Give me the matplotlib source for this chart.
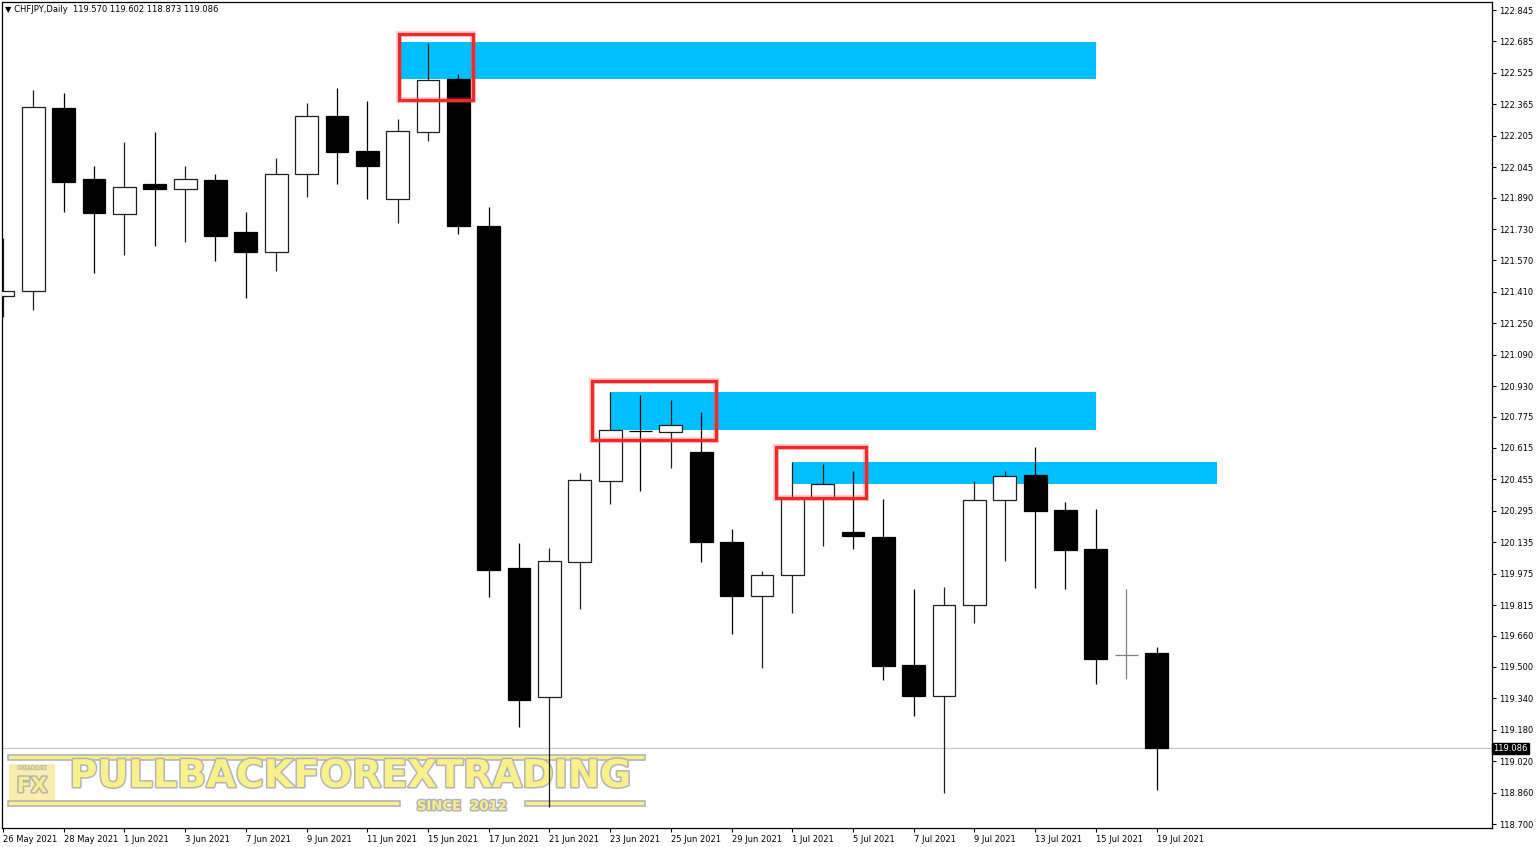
import matplotlib
matplotlib.use('Agg')
import matplotlib.pyplot as plt
import matplotlib.patches as patches
import matplotlib.patheffects as pe
import matplotlib.transforms as mtransforms

# CHFJPY daily bars
dates = ['26 May 2021', '27 May 2021', '28 May 2021', '31 May 2021', '1 Jun 2021',
         '2 Jun 2021', '3 Jun 2021', '4 Jun 2021', '7 Jun 2021', '8 Jun 2021',
         '9 Jun 2021', '10 Jun 2021', '11 Jun 2021', '14 Jun 2021', '15 Jun 2021',
         '16 Jun 2021', '17 Jun 2021', '18 Jun 2021', '21 Jun 2021', '22 Jun 2021',
         '23 Jun 2021', '24 Jun 2021', '25 Jun 2021', '28 Jun 2021', '29 Jun 2021',
         '30 Jun 2021', '1 Jul 2021', '2 Jul 2021', '5 Jul 2021', '6 Jul 2021',
         '7 Jul 2021', '8 Jul 2021', '9 Jul 2021', '12 Jul 2021', '13 Jul 2021',
         '14 Jul 2021', '15 Jul 2021', '16 Jul 2021', '19 Jul 2021']
opens = [121.389, 121.416, 122.344, 121.983, 121.806, 121.957, 121.932, 121.978, 121.717, 121.614,
         122.010, 122.307, 122.129, 121.884, 122.224, 122.492, 121.747, 120.004, 119.346, 120.036,
         120.445, 120.704, 120.698, 120.597, 120.137, 119.859, 119.966, 120.358, 120.185, 120.161,
         119.510, 119.353, 119.814, 120.348, 120.477, 120.297, 120.100, 119.561, 119.570]
highs = [121.684, 122.438, 122.421, 122.051, 122.171, 122.225, 122.051, 122.011, 121.818, 122.090,
         122.370, 122.446, 122.383, 122.291, 122.679, 122.519, 121.843, 120.131, 120.106, 120.489,
         120.901, 120.887, 120.859, 120.800, 120.201, 119.988, 120.543, 120.535, 120.498, 120.355,
         119.897, 119.907, 120.447, 120.496, 120.621, 120.341, 120.302, 119.895, 119.602]
lows = [121.282, 121.317, 121.815, 121.507, 121.599, 121.645, 121.664, 121.568, 121.377, 121.517,
        121.894, 121.960, 121.883, 121.762, 122.178, 121.704, 119.855, 119.194, 118.788, 119.795,
        120.328, 120.394, 120.515, 120.036, 119.669, 119.493, 119.776, 120.116, 120.100, 119.436,
        119.251, 118.859, 119.725, 120.038, 119.903, 119.898, 119.414, 119.440, 118.873]
closes = [121.414, 122.350, 121.971, 121.810, 121.944, 121.932, 121.983, 121.696, 121.614, 122.011,
          122.305, 122.120, 122.052, 122.229, 122.489, 121.744, 119.995, 119.331, 120.040, 120.453,
          120.708, 120.699, 120.734, 120.136, 119.859, 119.968, 120.360, 120.431, 120.165, 119.507,
          119.352, 119.815, 120.350, 120.471, 120.295, 120.097, 119.540, 119.561, 119.086]

price_ticks = [122.845, 122.685, 122.525, 122.365, 122.205, 122.045, 121.890, 121.730, 121.570,
               121.410, 121.250, 121.090, 120.930, 120.775, 120.615, 120.455, 120.295, 120.135,
               119.975, 119.815, 119.660, 119.500, 119.340, 119.180, 119.020, 118.860, 118.700]

# supply zones (bar index start/end, price top/bottom)
zone_start = [13, 20, 26]
zone_end = [36, 36, 40]
zone_top = [122.682, 120.900, 120.543]
zone_bottom = [122.494, 120.706, 120.431]

# red highlight boxes
box_left = [13.04, 19.41, 25.48]
box_right = [15.47, 23.48, 28.44]
box_top = [122.723, 120.956, 120.620]
box_bottom = [122.387, 120.655, 120.360]

fig = plt.figure(figsize=(15.36, 8.47), dpi=100)
ax = fig.add_axes([2 / 1536, 19 / 847, 1490 / 1536, 826 / 847])
ax.set_xlim(-0.033, 49.05)
ax.set_ylim(118.680, 122.886)

# pixel -> figure transform for the logo overlay
px = mtransforms.Affine2D().scale(1 / 1536, -1 / 847).translate(0, 1) + fig.transFigure

# watermark logo
yellow = '#f8f08a'
grey = '#b4b4b4'
ax.add_patch(patches.Rectangle((8, 755), 637, 5, transform=px, facecolor=yellow,
                               edgecolor=grey, lw=1.2, zorder=0.5))
ax.add_patch(patches.Rectangle((8, 801), 392, 5, transform=px, facecolor=yellow,
                               edgecolor=grey, lw=1.2, zorder=0.5))
ax.add_patch(patches.Rectangle((525, 801), 120, 5, transform=px, facecolor=yellow,
                               edgecolor=grey, lw=1.2, zorder=0.5))
ax.add_patch(patches.Rectangle((9, 764), 46, 36, transform=px, facecolor='#fbecb0',
                               edgecolor='none', zorder=0.5))
logo_fx = [pe.withStroke(linewidth=2.2, foreground=grey)]
ax.text(351, 777, 'PULLBACKFOREXTRADING', transform=px, ha='center', va='center',
        fontsize=27.5, fontweight='bold', color=yellow, path_effects=logo_fx, zorder=0.6)
ax.text(32, 786, 'FX', transform=px, ha='center', va='center', fontsize=15,
        fontweight='bold', color=yellow, path_effects=logo_fx, zorder=0.6)
ax.text(32, 768, 'PULLBACK', transform=px, ha='center', va='center', fontsize=3.5,
        fontweight='bold', color=yellow, path_effects=[pe.withStroke(linewidth=1, foreground=grey)],
        zorder=0.6)
ax.text(462, 806.5, 'SINCE  2012', transform=px, ha='center', va='center', fontsize=9.5,
        fontweight='bold', color=yellow, path_effects=logo_fx, zorder=0.6)

# zones
for x0, x1, t, b in zip(zone_start, zone_end, zone_top, zone_bottom):
    ax.add_patch(patches.Rectangle((x0, b), x1 - x0, t - b, facecolor='#00bfff',
                                   edgecolor='none', zorder=1))

# last price line
ax.axhline(closes[-1], color='#c8c8c8', lw=0.9, zorder=1.5)

# candles
x = list(range(len(dates)))
for i in x:
    o, h, l, c = opens[i], highs[i], lows[i], closes[i]
    if c > o:
        face, edge = 'white', '#202020'
    elif c < o:
        face, edge = 'black', 'black'
    else:
        face, edge = '#808080', '#808080'
    ax.vlines(i, l, h, color=edge, lw=0.9, zorder=2)
    ax.bar(i, abs(c - o), bottom=min(o, c), width=0.75, color=face, edgecolor=edge,
           lw=0.9, zorder=3)

# red highlight boxes
for x0, x1, t, b in zip(box_left, box_right, box_top, box_bottom):
    ax.add_patch(patches.Rectangle((x0, b), x1 - x0, t - b, fill=False, edgecolor='#ee2a2a',
                                   lw=2.4, zorder=5,
                                   path_effects=[pe.Stroke(linewidth=4.5, foreground=(1, 0.3, 0.3, 0.25)),
                                                 pe.Normal()]))

# axes styling
for s in ax.spines.values():
    s.set_color('black')
    s.set_linewidth(0.9)
ax.yaxis.tick_right()
ax.set_yticks(price_ticks)
ax.set_yticklabels([f'{v:.3f}' for v in price_ticks])
ax.tick_params(axis='y', direction='out', length=3, width=0.8, pad=2, labelsize=6)
ax.set_xticks(x[::2])
ax.set_xticklabels(dates[::2], ha='left')
ax.tick_params(axis='x', direction='out', length=3, width=0.8, pad=2, labelsize=6)

# current price tag
ax.text(1.001, closes[-1], f'{closes[-1]:.3f}', transform=ax.get_yaxis_transform(),
        ha='left', va='center', fontsize=6, color='white', zorder=6, clip_on=False,
        bbox=dict(boxstyle='square,pad=0.15', facecolor='black', edgecolor='black'))

# header
fig.text(5 / 1536, 1 - 10 / 847,
         f'\u25bc CHFJPY,Daily  {opens[-1]:.3f} {highs[-1]:.3f} {lows[-1]:.3f} {closes[-1]:.3f}',
         ha='left', va='center', fontsize=6)

fig.savefig('out.png', dpi=100)
